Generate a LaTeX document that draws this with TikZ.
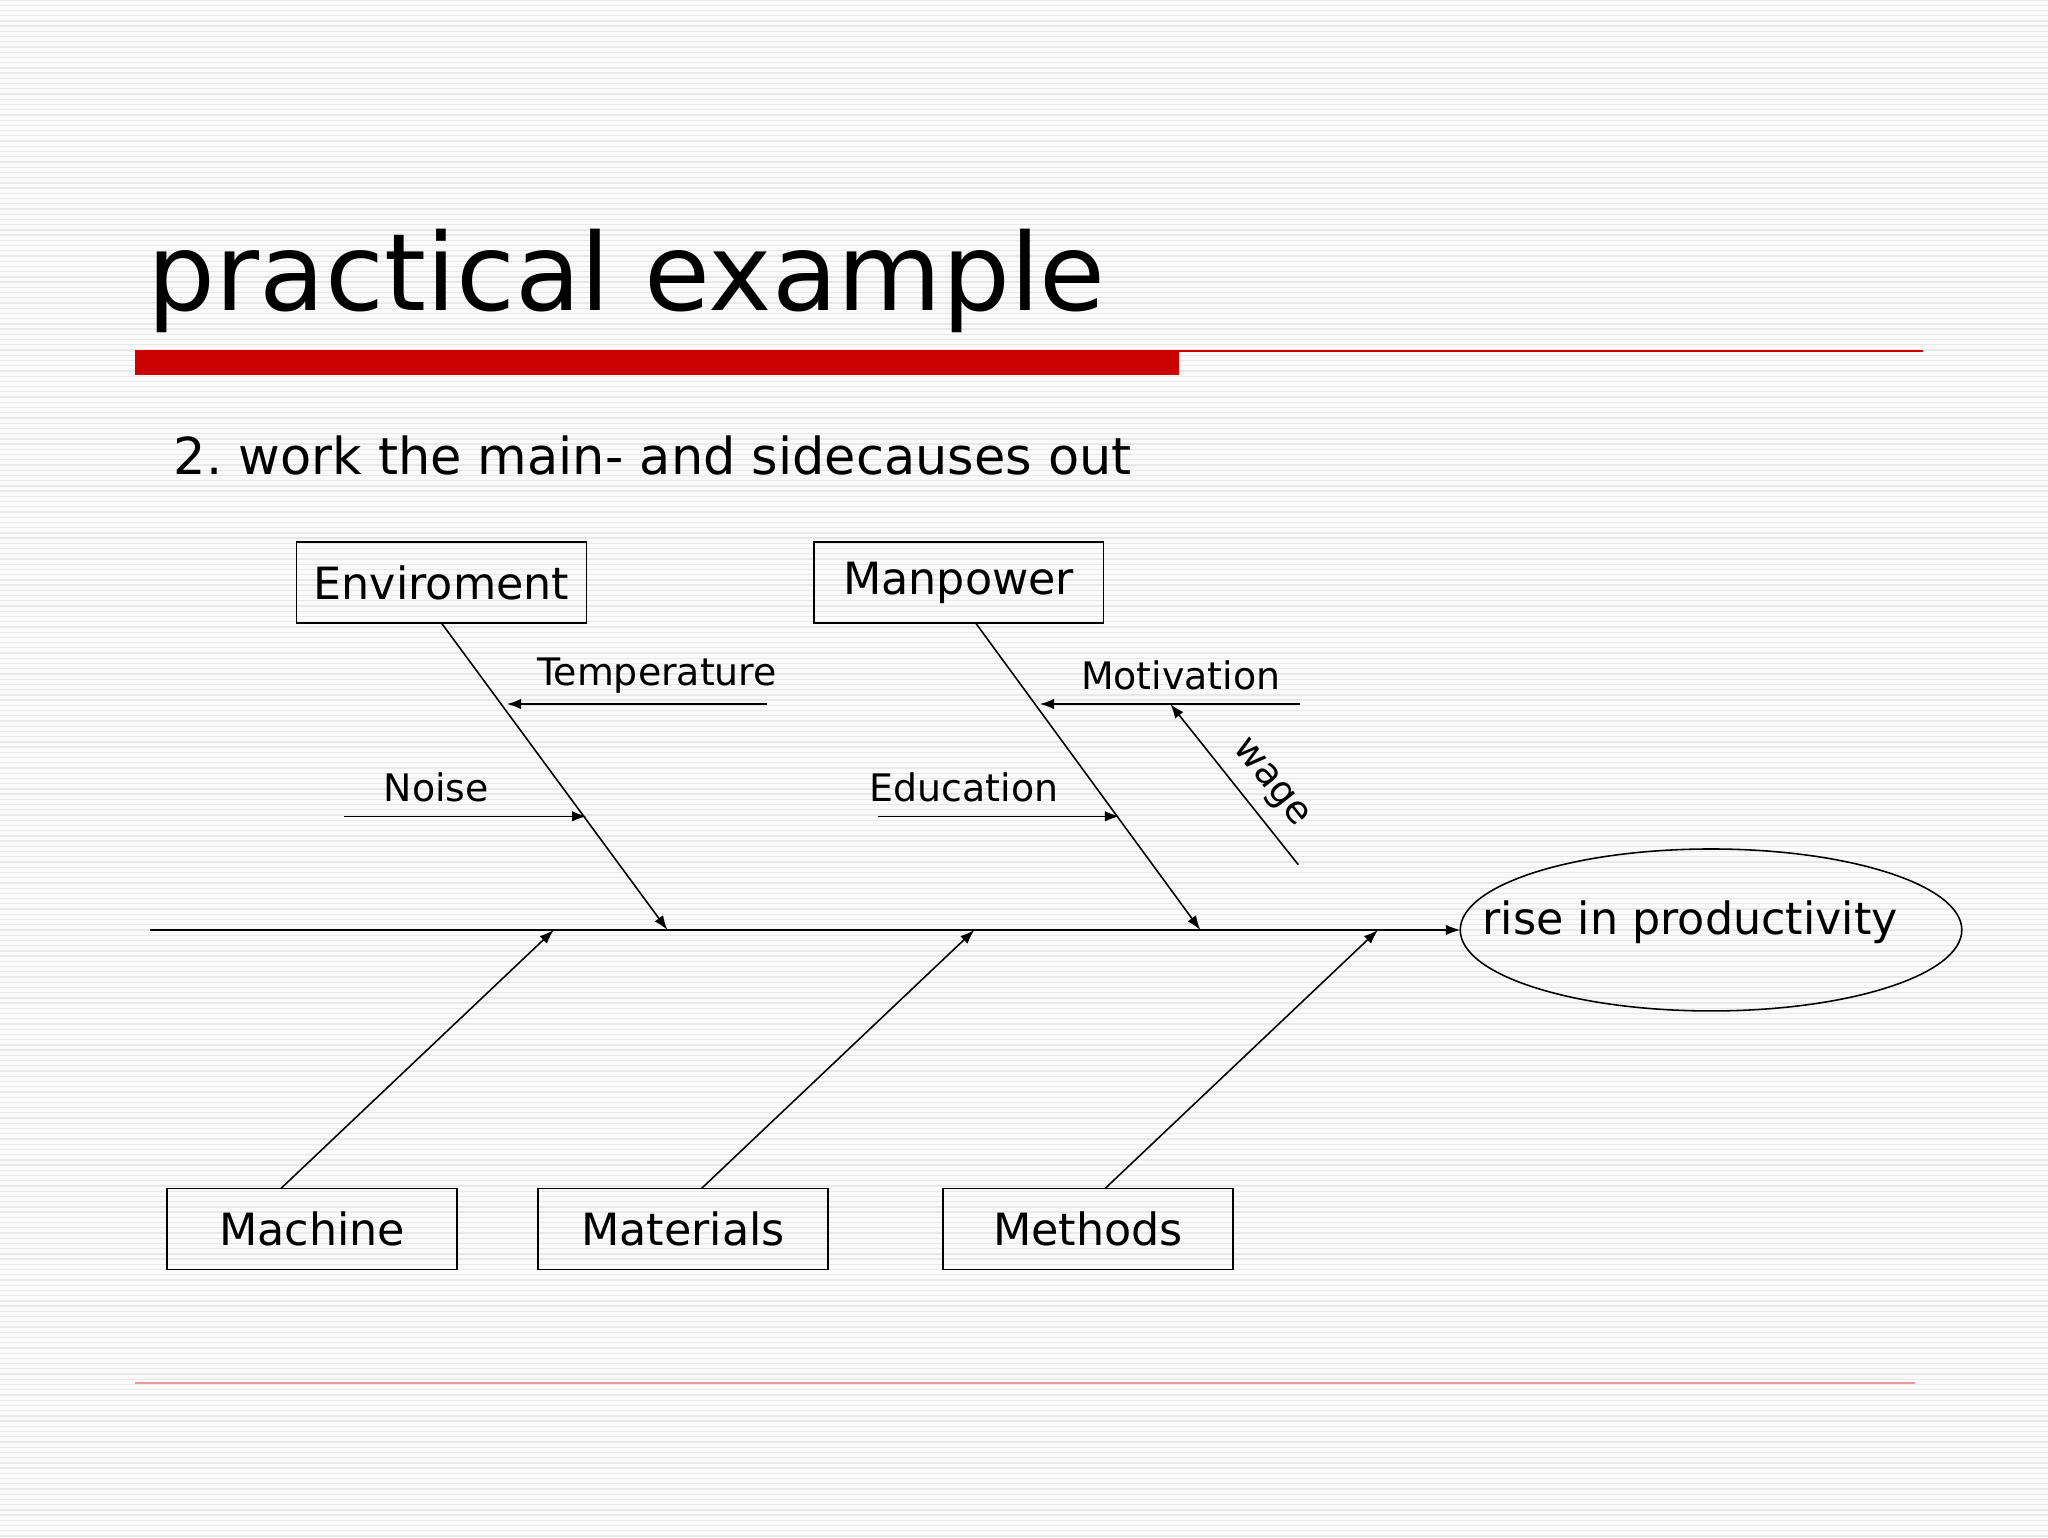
\documentclass[tikz,border=0pt]{standalone}
\usepackage{fontspec}
\setmainfont{DejaVu Sans}
\usetikzlibrary{arrows.meta,shapes.geometric}
\definecolor{barred}{RGB}{204,0,0}
\tikzset{
  box/.style={draw,line width=1.2,minimum width=222,minimum height=62,inner sep=0,font=\fontsize{34}{40}\selectfont},
  lbl/.style={inner sep=0,font=\fontsize{29}{33}\selectfont},
  arr/.style={line width=1.2,-{Latex[length=11,width=8]}}
}
\begin{document}
\begin{tikzpicture}[x=1pt,y=-1pt]
\useasboundingbox (0,0) rectangle (1568,1177);
\fill[gray!4] (0,0) rectangle (1568,1177);
\foreach \k in {0,4,...,1176} \draw[gray!18,line width=1] (0,\k) -- (1568,\k);
\node[anchor=base west,inner sep=0,font=\fontsize{82}{94}\selectfont] (title) at (113,238) {practical example};
\fill[barred] (103,268) rectangle (903,287);
\draw[barred,line width=1.5] (903,268.5) -- (1472,268.5);
\draw[barred!40,line width=1.2] (103,1059) -- (1466,1059);
\node[anchor=base west,inner sep=0,font=\fontsize{39}{45}\selectfont] (sub) at (133,363) {2.~work the main- and sidecauses out};
% boxes
\node[box] (env) at (338,446) {Enviroment};
\node[box] (man) at (734,446) {Manpower};
\node[box] (mac) at (239,941) {Machine};
\node[box] (mat) at (523,941) {Materials};
\node[box] (met) at (833,941) {Methods};
\draw[line width=1.2] (1310,712) ellipse [x radius=192,y radius=62];
\coordinate (eff) at (1118,712);
\node[anchor=west,inner sep=0,font=\fontsize{34}{40}\selectfont] (efft) at (1135,706) {rise in productivity};
% spine
\coordinate (s0) at (115,712);
\coordinate (e1) at (511,712);
\coordinate (m1) at (919,712);
\coordinate (b1) at (424,712);
\coordinate (b2) at (746,712);
\coordinate (b3) at (1055,712);
\draw[arr] (s0) -- (eff);
\draw[arr] (338,477) -- (e1);
\draw[arr] (747,477) -- (m1);
\draw[arr] (215,910) -- (b1);
\draw[arr] (537,910) -- (b2);
\draw[arr] (846,910) -- (b3);
% sub causes
\coordinate (t0) at (587,539); \coordinate (t1) at (388,539);
\coordinate (n0) at (263,625); \coordinate (n1) at (449,625);
\coordinate (mo0) at (995,539); \coordinate (mo1) at (796,539);
\coordinate (ed0) at (672,625); \coordinate (ed1) at (857,625);
\coordinate (w0) at (994,662); \coordinate (w1) at (896,539);
\draw[arr] (t0) -- (t1);
\draw[arr] (n0) -- (n1);
\draw[arr] (mo0) -- (mo1);
\draw[arr] (ed0) -- (ed1);
\draw[arr] (w0) -- (w1);
\node[lbl] (tl) at (503,517) {Temperature};
\node[lbl] (nl) at (334,603) {Noise};
\node[lbl] (ml) at (904,517) {Motivation};
\node[lbl] (el) at (738,603) {Education};
\node[lbl,rotate=-51.5] (wl) at (972,600) {wage};
\end{tikzpicture}
\end{document}
